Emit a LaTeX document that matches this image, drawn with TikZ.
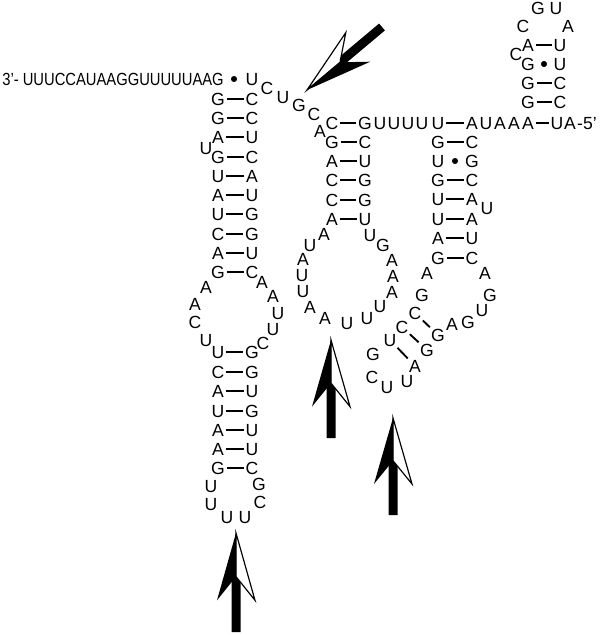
\documentclass[tikz,border=0pt]{standalone}
\usepackage{fontspec}
\setmainfont{Liberation Sans}
\usetikzlibrary{calc}
\tikzset{
  nt/.style={inner sep=0pt, font=\fontsize{15}{15}\selectfont, text height=10.8pt, text depth=0pt},
  bar/.style={line width=2pt, shorten <=1.5pt, shorten >=1.5pt},
  link/.style={line width=1.6pt, shorten <=1.5pt, shorten >=1.5pt},
}
\newcommand\bp[6]{\node[nt] (#1l) at (#2,#4) {#5}; \node[nt] (#1r) at (#3,#4) {#6}; \draw[bar] (#1l) -- (#1r);}
\newcommand\gu[6]{\node[nt] (#1l) at (#2,#4) {#5}; \node[nt] (#1r) at (#3,#4) {#6}; \fill ($(#1l)!0.5!(#1r)$) circle (2.6pt);}
\newcommand\bigarrow[3]{%
  \coordinate (#1T) at #2; \coordinate (#1E) at #3;
  \coordinate (#1N) at ($(#1T)!0.44!(#1E)$);
  \coordinate (#1H) at ($(#1T)!0.68!(#1E)$);
  \coordinate (#1L) at ($(#1H)!0.57cm!90:(#1T)$);
  \coordinate (#1R) at ($(#1H)!0.57cm!-90:(#1T)$);
  \draw[line width=0.27cm] (#1N) -- (#1E);
  \filldraw[fill=white, line width=1pt, line join=miter] (#1T) -- (#1R) -- (#1N) -- cycle;
  \fill (#1T) -- (#1L) -- (#1N) -- cycle;}
\begin{document}
\begin{tikzpicture}[x=0.03cm, y=-0.03cm]
\useasboundingbox (0,0) rectangle (600,635);
% 3' tail
\node[nt, anchor=east] (tail3) at (224,79) {\scalebox{0.84}[1]{3'- UUUCCAUAAGGUUUUUAAG}};
\node[nt] (u0) at (252,79) {U};
\fill (234,79) circle (2.6pt);
% left stem
\bp{a1}{218}{252}{99}{G}{C}
\bp{a2}{218}{252}{118}{G}{C}
\bp{a3}{218}{252}{137}{A}{U}
\bp{a4}{218}{252}{157}{G}{C}
\bp{a5}{218}{252}{176}{U}{A}
\bp{a6}{218}{252}{195}{A}{U}
\bp{a7}{218}{252}{214}{U}{G}
\bp{a8}{218}{252}{234}{C}{G}
\bp{a9}{218}{252}{253}{A}{U}
\bp{a10}{218}{252}{272}{G}{C}
\node[nt] (bu1) at (206,148) {U};
\foreach \x/\y/\t [count=\i] in {206/287/A,195/304/A,195/322/C,206/340/U,262/282/A,273/296/A,278/313/U,273/329/U,263/343/C}
  \node[nt] (lp\i) at (\x,\y) {\t};
\bp{b1}{218}{252}{352}{U}{G}
\bp{b2}{218}{252}{372}{C}{G}
\bp{b3}{218}{252}{391}{A}{U}
\bp{b4}{218}{252}{411}{U}{G}
\bp{b5}{218}{252}{430}{A}{U}
\bp{b6}{218}{252}{449}{A}{U}
\bp{b7}{218}{252}{468}{G}{C}
\foreach \x/\y/\t [count=\i] in {211/486/U,211/504/U,227/517/U,245/517/U,260/502/C,259/484/G}
  \node[nt] (hp\i) at (\x,\y) {\t};
% linker
\foreach \x/\y/\t [count=\i] in {267/88/C,283/97/U,299/105/G,314/114/C,320/131/A}
  \node[nt] (k\i) at (\x,\y) {\t};
% middle stem
\bp{c1}{332}{365}{123}{C}{G}
\bp{c2}{332}{365}{142}{G}{C}
\bp{c3}{332}{365}{161}{A}{U}
\bp{c4}{332}{365}{180}{C}{G}
\bp{c5}{332}{365}{200}{C}{G}
\bp{c6}{332}{365}{219}{A}{U}
\foreach \x/\y/\t [count=\i] in {324/234/A,310/245/U,303/259/A,302/275/U,303/291/U,310/307/A,325/318/A,347/323/U,367/318/U,380/306/U,392/292/A,393/276/A,392/260/A,383/245/G,370/235/U}
  \node[nt] (m\i) at (\x,\y) {\t};
% horizontal line
\foreach \x/\t [count=\i] in {380/U,394/U,408/U,422/U,438/U}
  \node[nt] (h\i) at (\x,123) {\t};
\foreach \x/\t [count=\i] in {472/A,486/U,500/A,514/A,528/A}
  \node[nt] (g\i) at (\x,123) {\t};
\node[nt] (e1) at (557,123) {U};
\node[nt] (e2) at (570,123) {A};
\node[nt, anchor=west] (e3) at (577,123) {-5'};
\draw[bar] (h5) -- (g1);
\draw[bar] (g5) -- (e1);
% right hairpin
\bp{d1}{528}{560}{102}{G}{C}
\bp{d2}{528}{560}{83}{G}{C}
\gu{d3}{528}{560}{64}{G}{U}
\bp{d4}{528}{560}{45}{A}{U}
\foreach \x/\y/\t [count=\i] in {516/54/C,523/26/C,538/8/G,556/8/U,568/26/A}
  \node[nt] (r\i) at (\x,\y) {\t};
% third stem
\bp{f1}{438}{472}{142}{G}{C}
\gu{f2}{438}{472}{161}{U}{G}
\bp{f3}{438}{472}{180}{G}{C}
\bp{f4}{438}{472}{199}{U}{A}
\bp{f5}{438}{472}{219}{U}{A}
\bp{f6}{438}{472}{238}{A}{U}
\bp{f7}{438}{472}{258}{G}{C}
\node[nt] (bu2) at (487,208) {U};
% multiloop
\foreach \x/\y/\t [count=\i] in {427/273/A,422/295/G,415/313/C,402/327/C,390/340/U,373/354/G,372/377/C,387/387/U,407/381/U,415/366/A,427/350/G,438/335/G,452/324/A,468/322/G,482/310/U,490/295/G,485/273/A}
  \node[nt] (q\i) at (\x,\y) {\t};
\draw[link] (q3) -- (q12);
\draw[link] (q4) -- (q11);
\draw[link] (q5) -- (q10);
% arrows
\bigarrow{A1}{(307,90)}{(382,27)}
\bigarrow{A2}{(331,340)}{(331,438)}
\bigarrow{A3}{(393,418)}{(393,515)}
\bigarrow{A4}{(236,533)}{(236,632)}
\end{tikzpicture}
\end{document}
